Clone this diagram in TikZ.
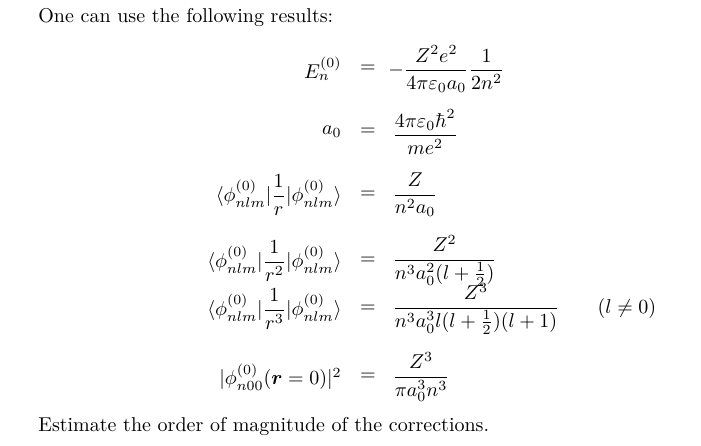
\documentclass[tikz,border=0pt]{standalone}
\usepackage{amsmath}
\begin{document}
\begin{tikzpicture}[x=0.5pt,y=0.5pt,
  lhs/.style={anchor=east,inner sep=0pt},
  rhs/.style={anchor=west,inner sep=0pt},
  eq/.style={inner sep=0pt},
  txt/.style={anchor=west,inner sep=0pt}]
\useasboundingbox (0,0) rectangle (701,445);
\node[txt] (t1) at (38,427) {One can use the following results:};
\node[txt] (t2) at (38,18) {Estimate the order of magnitude of the corrections.};
\foreach \n/\y in {a/376,b/313,c/250,d/184,e/136,f/68}{
  \node[eq] (eq\n) at (368,\y) {$=$};
}
\node[lhs] (la) at (342,376) {$E^{(0)}_n$};
\node[rhs] (ra) at (388,376) {$\displaystyle -\frac{Z^2e^2}{4\pi\varepsilon_0a_0}\frac{1}{2n^2}$};
\node[lhs] (lb) at (342,313) {$a_0$};
\node[rhs] (rb) at (392,313) {$\displaystyle \frac{4\pi\varepsilon_0\hbar^2}{me^2}$};
\node[lhs] (lc) at (342,250) {$\displaystyle \langle\phi^{(0)}_{nlm}|\frac{1}{r}|\phi^{(0)}_{nlm}\rangle$};
\node[rhs] (rc) at (392,250) {$\displaystyle \frac{Z}{n^2a_0}$};
\node[lhs] (ld) at (342,184) {$\displaystyle \langle\phi^{(0)}_{nlm}|\frac{1}{r^2}|\phi^{(0)}_{nlm}\rangle$};
\node[rhs] (rd) at (392,184) {$\displaystyle \frac{Z^2}{n^3a_0^2(l+\frac{1}{2})}$};
\node[lhs] (le) at (342,136) {$\displaystyle \langle\phi^{(0)}_{nlm}|\frac{1}{r^3}|\phi^{(0)}_{nlm}\rangle$};
\node[rhs] (re) at (392,136) {$\displaystyle \frac{Z^3}{n^3a_0^3l(l+\frac{1}{2})(l+1)}$};
\node[eq] (cond) at (627,137) {$(l\neq0)$};
\node[lhs] (lf) at (342,68) {$|\phi^{(0)}_{n00}(\boldsymbol{r}=0)|^2$};
\node[rhs] (rf) at (392,68) {$\displaystyle \frac{Z^3}{\pi a_0^3n^3}$};
\end{tikzpicture}
\end{document}
